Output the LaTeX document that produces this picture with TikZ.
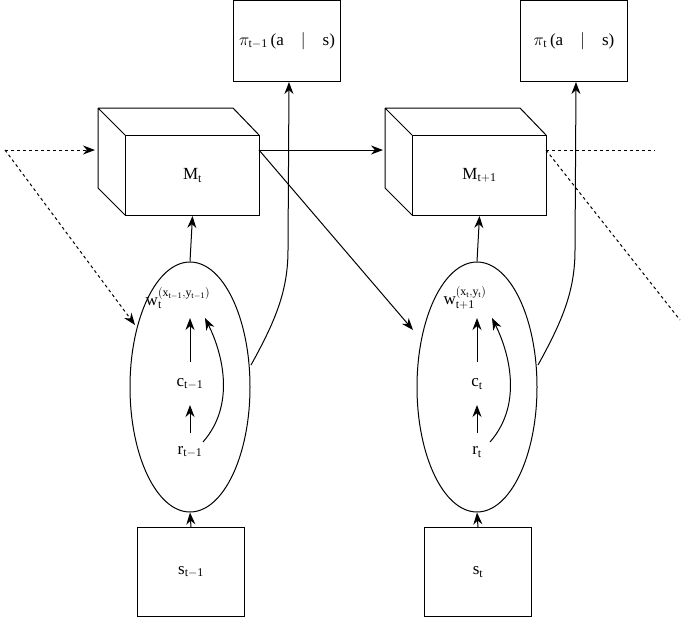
\documentclass[tikz,border=0pt]{standalone}
\usepackage{fontspec}
\setmainfont{Liberation Serif}
\usetikzlibrary{arrows.meta,shapes.geometric}
\begin{document}
\begin{tikzpicture}[x=1pt,y=-1pt,
  line width=1pt,
  arr/.style={-{Stealth[length=12pt,width=9pt]}},
  box/.style={draw,minimum width=107pt,minimum height=81pt,inner sep=0pt},
  ell/.style={draw,ellipse,minimum width=120pt,minimum height=250pt,inner sep=0pt},
  lbl/.style={font=\fontsize{17}{20}\selectfont,inner sep=1pt}]
\useasboundingbox (0,0) rectangle (683,641);
\foreach \i/\dx/\tsub/\msub/\wsub/\wsup/\csub in {L/0/t-1/t/t/{(x_{t-1},y_{t-1})}/t-1, R/287/t/t+1/t+1/{(x_t,y_t)}/t}{
  \begin{scope}[xshift=\dx]
  \draw (98,108) -- (233,108) -- (259,135) (98,108) -- (125,135) (98,108) -- (98,188) -- (125,215);
  \node[draw,minimum width=134pt,minimum height=80pt,inner sep=0pt,anchor=north west,lbl] (M\i) at (125,135) {M$_{\mathrm{\msub}}$};
  \node[box,anchor=north west,lbl] (P\i) at (233,0) {$\pi_{\mathrm{\tsub}}\,$(a\quad$|$\quad s)};
  \node[box,anchor=north west,minimum width=107pt,minimum height=89pt,lbl] (S\i) at (137,527) {s$_{\mathrm{\csub}}$};
  \node[ell] (E\i) at (190,387) {};
  \node[lbl] (r\i) at (190,452) {r$_{\mathrm{\csub}}$};
  \node[lbl] (c\i) at (190,384) {c$_{\mathrm{\csub}}$};
  \node[lbl] (w\i) at (178,298) {w$_{\mathrm{\wsub}}^{\mathrm{\wsup}}$};
  \coordinate (ra\i) at (190,433);
  \coordinate (rb\i) at (190,405);
  \coordinate (ca\i) at (190,362);
  \coordinate (cb\i) at (190,318);
  \coordinate (ka\i) at (203,442);
  \coordinate (kb\i) at (205,318);
  \coordinate (oa\i) at (251,365);
  \coordinate (ob\i) at (288,250);
  \end{scope}
  \draw[arr] (S\i.north) -- (E\i.south);
  \draw[arr] (E\i.north) -- (M\i.south);
  \draw[arr] (ra\i) -- (rb\i);
  \draw[arr] (ca\i) -- (cb\i);
  \draw[arr] (ka\i) .. controls +(35,-40) and +(15,30) .. (kb\i);
  \draw[arr] (oa\i) .. controls +(25,-45) and +(0,40) .. (ob\i) -- ([xshift=2pt]P\i.south);
}
\coordinate (d0) at (5,150);
\coordinate (d1) at (95,150);
\coordinate (d2) at (135,325);
\coordinate (d3) at (655,150);
\coordinate (d4) at (680,320);
\coordinate (ML) at (259,150);
\coordinate (MR) at (546,150);
\coordinate (ER) at (413,330);
\coordinate (BR) at (383,150);
\draw[arr,dashed] (d0) -- (d1);
\draw[arr,dashed] (d0) -- (d2);
\draw[dashed] (MR) -- (d3);
\draw[dashed] (MR) -- (d4);
\draw[arr] (ML) -- (BR);
\draw[arr] (ML) -- (ER);
\end{tikzpicture}
\end{document}
